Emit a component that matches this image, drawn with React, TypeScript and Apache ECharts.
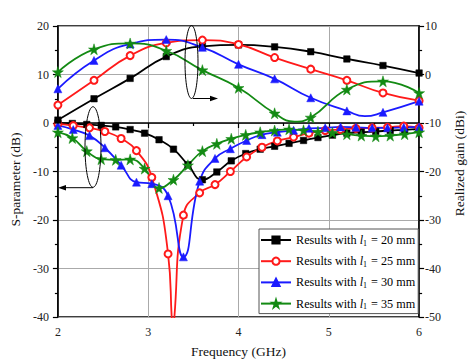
import React, { useEffect, useRef } from "react";
import * as echarts from "echarts";

// ---- Data ----
const lengthsMM = [20, 25, 30, 35];
const colors = ["#000000", "#ff1a1a", "#1a1aff", "#138a13"];

// Realized gain (dBi), right axis
const freqGain = [2.0, 2.4, 2.8, 3.2, 3.6, 4.0, 4.4, 4.8, 5.2, 5.6, 6.0];
const gain20 = [-9.4, -5.0, -0.8, 3.7, 5.8, 6.1, 5.7, 4.7, 3.2, 1.85, 0.3];
const gain25 = [-6.3, -1.2, 3.9, 6.5, 7.1, 6.2, 3.5, 1.1, -1.2, -3.8, -5.4];
const gain30 = [-2.95, 2.9, 6.3, 7.2, 5.6, 2.1, -0.9, -4.8, -7.5, -7.8, -5.5];
const gain35 = [0.5, 5.2, 6.4, 4.9, 0.9, -2.75, -8.0, -8.85, -3.1, -1.4, -3.8];
// unmarked curve points (troughs between markers)
const gain30ExtraF = [5.4];
const gain30ExtraV = [-8.6];
const gain35ExtraF = [4.62];
const gain35ExtraV = [-9.7];

// S-parameter (dB), left axis
const freqA = [2.0, 2.16, 2.32, 2.48, 2.64, 2.8, 2.96, 3.12, 3.28, 3.44, 3.6, 3.76, 3.92, 4.08, 4.24, 4.4, 4.56, 4.72, 4.88, 5.04, 5.2, 5.36, 5.52, 5.68, 5.84, 6.0];
const s20 = [0, -0.1, -0.3, -0.5, -0.8, -1.35, -2.1, -3.45, -5.4, -8.6, -11.7, -10.1, -7.8, -6.3, -5.4, -4.8, -4.2, -3.6, -3.0, -2.5, -2.1, -1.9, -1.75, -1.55, -1.4, -1.2];
const s35 = [-1.9, -3.1, -5.8, -7.45, -7.6, -7.5, -9.4, -13.4, -11.7, -8.7, -5.8, -4.3, -3.25, -2.45, -1.9, -1.55, -1.3, -1.5, -1.8, -2.0, -2.3, -2.6, -2.75, -2.6, -2.3, -1.9];

const freqB = [2.0, 2.17, 2.35, 2.52, 2.7, 2.87, 3.04, 3.22, 3.39, 3.57, 3.74, 3.91, 4.09, 4.26, 4.43, 4.61, 4.78, 4.96, 5.13, 5.3, 5.48, 5.65, 5.83, 6.0];
const s25 = [-0.2, -0.55, -1.0, -1.75, -3.2, -5.7, -11.2, -27, -19.0, -14.4, -12.7, -10.0, -7.0, -5.0, -3.7, -2.9, -2.1, -1.55, -1.35, -1.1, -1.0, -0.9, -0.65, -1.0];
const s25ExtraF = [3.26, 3.275, 3.29];
const s25ExtraV = [-40, -46, -40];
const s30 = [-0.5, -1.35, -2.6, -5.1, -8.7, -12.2, -12.5, -15.0, -27.6, -12.0, -7.3, -5.3, -3.6, -2.4, -1.9, -1.5, -1.1, -1.0, -0.8, -0.9, -1.0, -1.0, -0.9, -0.8];

const FONT = "Liberation Serif";
const STAR = "path://M50,0 L61,35 L98,35 L68,57 L79,91 L50,70 L21,91 L32,57 L2,35 L39,35 Z";
const symbols = ["rect", "emptyCircle", "triangle", STAR];
const symbolSizes = [6.5, 7, 8, 11];

function build(fs: number[], vs: number[], exF: number[] = [], exV: number[] = []) {
  const items: any[] = fs.map((f, i) => ({ value: [f, vs[i]] }));
  exF.forEach((f, i) => items.push({ value: [f, exV[i]], symbol: "none" }));
  items.sort((a, b) => a.value[0] - b.value[0]);
  return items;
}

const names = lengthsMM.map((l) => `Results with l1 = ${l} mm`);

function makeSeries(idx: number, data: any[], yAxisIndex: number) {
  return {
    type: "line",
    name: names[idx],
    yAxisIndex,
    data,
    smooth: 0.5,
    symbol: symbols[idx],
    symbolSize: symbolSizes[idx],
    showAllSymbol: true,
    lineStyle: { color: colors[idx], width: 1.8 },
    itemStyle: { color: colors[idx], borderColor: colors[idx], borderWidth: idx === 1 ? 1.5 : 0.5 },
    emphasis: { disabled: true },
  };
}

export default function App() {
  const ref = useRef<HTMLDivElement>(null);
  useEffect(() => {
    const chart = echarts.init(ref.current!, null, { renderer: "svg" });
    const axisCommon = {
      axisLine: { show: true, lineStyle: { color: "#000", width: 1.5 } },
      axisTick: { show: true, inside: false, length: 5, lineStyle: { color: "#000", width: 1.2 } },
      minorTick: { show: true, splitNumber: 2, length: 3, lineStyle: { color: "#000", width: 1.2 } },
      axisLabel: { fontFamily: FONT, fontSize: 12, color: "#222" },
      nameTextStyle: { fontFamily: FONT, fontSize: 13.5, color: "#111" },
    };
    const option: any = {
      animation: false,
      backgroundColor: "#fff",
      grid: { left: 47, top: 26, width: 386, height: 295, show: true, borderColor: "#000", borderWidth: 1.5 },
      xAxis: {
        ...axisCommon,
        type: "value",
        min: 2,
        max: 6,
        interval: 1,
        axisLabel: { ...axisCommon.axisLabel, margin: 9 },
        splitLine: { show: true, lineStyle: { color: "#aaaaaa", width: 1 } },
        name: "Frequency (GHz)",
        nameLocation: "middle",
        nameGap: 27,
      },
      yAxis: [
        {
          ...axisCommon,
          type: "value",
          position: "left",
          min: -40,
          max: 20,
          interval: 10,
          axisLabel: { ...axisCommon.axisLabel, margin: 9 },
          splitLine: { show: true, lineStyle: { color: "#aaaaaa", width: 1 } },
          name: "S-parameter (dB)",
          nameLocation: "middle",
          nameGap: 31,
          nameTextStyle: { ...axisCommon.nameTextStyle, padding: [0, 16, 0, 0] },
        },
        {
          ...axisCommon,
          type: "value",
          position: "right",
          min: -50,
          max: 10,
          interval: 10,
          axisLabel: { ...axisCommon.axisLabel, margin: 6 },
          splitLine: { show: false },
          name: "Realized gain (dBi)",
          nameLocation: "middle",
          nameGap: 23,
          nameTextStyle: { ...axisCommon.nameTextStyle, padding: [0, 0, 0, 16] },
        },
      ],
      legend: {
        data: names,
        orient: "vertical",
        left: 259,
        top: 229,
        padding: [5, 3, 3, 1],
        itemWidth: 30,
        itemHeight: 9,
        itemGap: 8.2,
        backgroundColor: "#fff",
        borderColor: "#555",
        borderWidth: 1,
        borderRadius: 0,
        selectedMode: false,
        formatter: (name: string) => {
          const mm = name.split("= ")[1];
          return `{a|Results with }{i|l}{s|1}{a| = ${mm}}`;
        },
        textStyle: {
          fontFamily: FONT,
          fontSize: 12.2,
          color: "#000",
          rich: {
            a: { fontFamily: FONT, fontSize: 12.2, color: "#000", lineHeight: 15 },
            i: { fontFamily: FONT, fontSize: 12.2, fontStyle: "italic", color: "#000", lineHeight: 15 },
            s: { fontFamily: FONT, fontSize: 8, color: "#000", padding: [6, 1, 0, 0] },
          },
        },
      },
      series: [
        makeSeries(0, build(freqA, s20), 0),
        makeSeries(1, build(freqB, s25, s25ExtraF, s25ExtraV), 0),
        makeSeries(2, build(freqB, s30), 0),
        makeSeries(3, build(freqA, s35), 0),
        makeSeries(0, build(freqGain, gain20), 1),
        makeSeries(1, build(freqGain, gain25), 1),
        makeSeries(2, build(freqGain, gain30, gain30ExtraF, gain30ExtraV), 1),
        makeSeries(3, build(freqGain, gain35, gain35ExtraF, gain35ExtraV), 1),
      ],
      graphic: [
        { type: "ellipse", z: 100, shape: { cx: 191.5, cy: 62, rx: 6.5, ry: 36.5 }, style: { fill: "none", stroke: "#000", lineWidth: 1 } },
        { type: "line", z: 100, shape: { x1: 193, y1: 98.5, x2: 212, y2: 98.5 }, style: { stroke: "#000", lineWidth: 1 } },
        { type: "polygon", z: 100, shape: { points: [[218, 98.5], [210, 95.8], [210, 101.2]] }, style: { fill: "#000" } },
        { type: "ellipse", z: 100, shape: { cx: 93, cy: 147, rx: 8, ry: 40.3 }, style: { fill: "none", stroke: "#000", lineWidth: 1 } },
        { type: "line", z: 100, shape: { x1: 93, y1: 187.7, x2: 64, y2: 187.7 }, style: { stroke: "#000", lineWidth: 1 } },
        { type: "polygon", z: 100, shape: { points: [[58, 187.7], [66, 185], [66, 190.4]] }, style: { fill: "#000" } },
      ],
    };
    chart.setOption(option);
    return () => chart.dispose();
  }, []);
  return (
    <div
      ref={ref}
      style={{ position: "fixed", left: 0, top: 0, width: 474, height: 363, background: "#fff" }}
    />
  );
}
